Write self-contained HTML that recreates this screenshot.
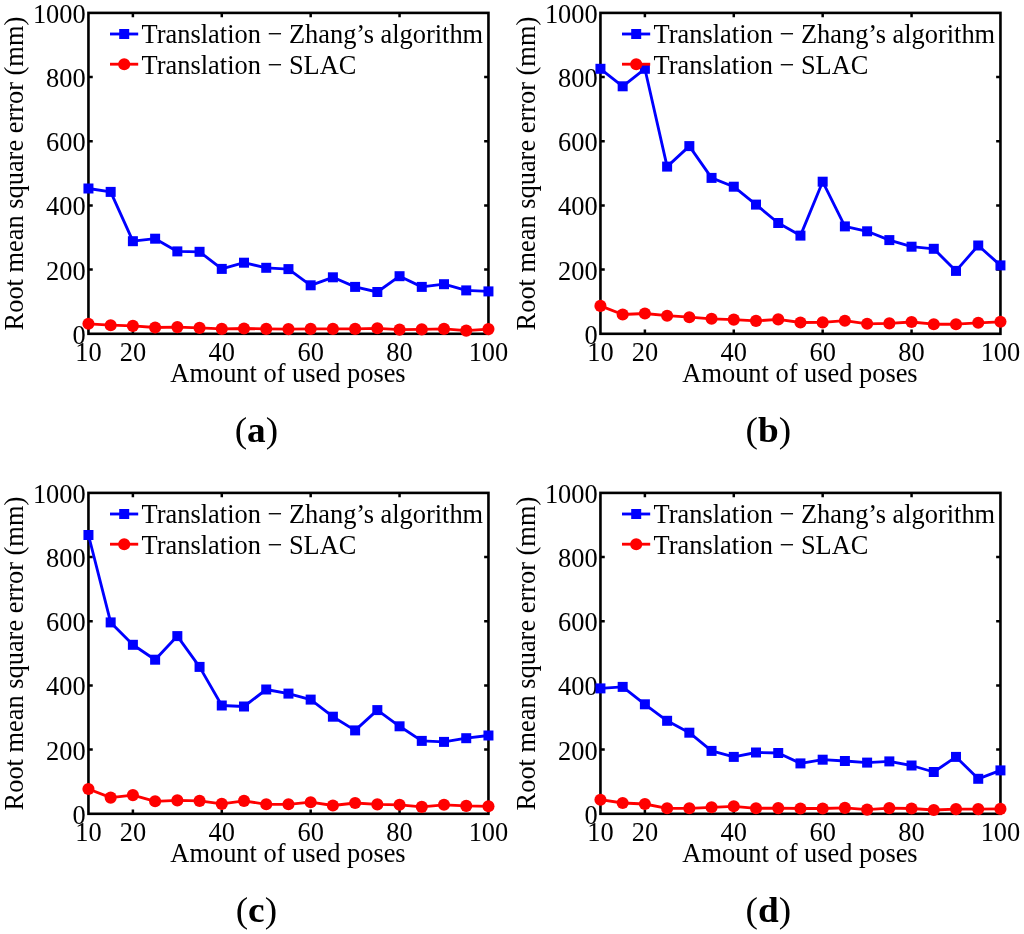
<!DOCTYPE html>
<html lang="en"><head><meta charset="utf-8"><title>Translation RMSE vs amount of used poses</title>
<style>
html,body{margin:0;padding:0;background:#fff;}
body{width:1024px;height:934px;overflow:hidden;}
svg{display:block;}
text{font-family:"Liberation Serif","Times New Roman",Times,serif;fill:#000;}
.t{font-size:26.4px;}
.cap{font-size:37.3px;}
.cap .b{font-weight:bold;}
.ax{fill:none;stroke:#000;stroke-width:2.6;stroke-linejoin:miter;}
.tk{stroke:#000;stroke-width:2.5;fill:none;}
.bl{fill:none;stroke:#0000ff;stroke-width:2.85;stroke-linejoin:round;}
.rl{fill:none;stroke:#ff0000;stroke-width:2.85;stroke-linejoin:round;}
.bm{fill:#0000ff;}
.rm{fill:#ff0000;}
</style></head>
<body>
<svg width="1024" height="934" viewBox="0 0 1024 934">
<rect width="1024" height="934" fill="#fff"/>
<g transform="translate(0,0)">
<text class="t" transform="translate(85.7,22.9) scale(1,1.06)" text-anchor="end">1000</text>
<text class="t" transform="translate(85.7,87.08) scale(1,1.06)" text-anchor="end">800</text>
<text class="t" transform="translate(85.7,151.26) scale(1,1.06)" text-anchor="end">600</text>
<text class="t" transform="translate(85.7,215.44) scale(1,1.06)" text-anchor="end">400</text>
<text class="t" transform="translate(85.7,279.62) scale(1,1.06)" text-anchor="end">200</text>
<text class="t" transform="translate(85.7,343.8) scale(1,1.06)" text-anchor="end">0</text>
<text class="t" transform="translate(88.45,360.6) scale(1,1.06)" text-anchor="middle">10</text>
<text class="t" transform="translate(132.89,360.6) scale(1,1.06)" text-anchor="middle">20</text>
<text class="t" transform="translate(221.78,360.6) scale(1,1.06)" text-anchor="middle">40</text>
<text class="t" transform="translate(310.67,360.6) scale(1,1.06)" text-anchor="middle">60</text>
<text class="t" transform="translate(399.56,360.6) scale(1,1.06)" text-anchor="middle">80</text>
<text class="t" transform="translate(488.45,360.6) scale(1,1.06)" text-anchor="middle">100</text>
<path class="tk" d="M88.45 77.08h4.3 M488.45 77.08h-4.3 M88.45 141.26h4.3 M488.45 141.26h-4.3 M88.45 205.44h4.3 M488.45 205.44h-4.3 M88.45 269.62h4.3 M488.45 269.62h-4.3 M132.89 333.8v-4.3 M132.89 12.9v4.3 M221.78 333.8v-4.3 M221.78 12.9v4.3 M310.67 333.8v-4.3 M310.67 12.9v4.3 M399.56 333.8v-4.3 M399.56 12.9v4.3"/>
<rect class="ax" x="88.45" y="12.9" width="400" height="320.9"/>
<text class="t" transform="translate(288,382.2) scale(1,1.04)" text-anchor="middle">Amount of used poses</text>
<text class="t" transform="translate(23.4,173.6) rotate(-90) scale(1,1.04)" text-anchor="middle">Root mean square error (mm)</text>
<polyline class="bl" points="88.45,188.5 110.67,191.9 132.89,241.2 155.12,238.7 177.34,251.4 199.56,251.8 221.78,268.9 244.01,262.7 266.23,267.8 288.45,269.1 310.67,285.3 332.89,277.3 355.12,286.9 377.34,292 399.56,276.2 421.78,286.9 444.01,284.2 466.23,290.4 488.45,291.4"/>
<rect class="bm" x="83.45" y="183.5" width="10" height="10"/><rect class="bm" x="105.67" y="186.9" width="10" height="10"/><rect class="bm" x="127.89" y="236.2" width="10" height="10"/><rect class="bm" x="150.12" y="233.7" width="10" height="10"/><rect class="bm" x="172.34" y="246.4" width="10" height="10"/><rect class="bm" x="194.56" y="246.8" width="10" height="10"/><rect class="bm" x="216.78" y="263.9" width="10" height="10"/><rect class="bm" x="239.01" y="257.7" width="10" height="10"/><rect class="bm" x="261.23" y="262.8" width="10" height="10"/><rect class="bm" x="283.45" y="264.1" width="10" height="10"/><rect class="bm" x="305.67" y="280.3" width="10" height="10"/><rect class="bm" x="327.89" y="272.3" width="10" height="10"/><rect class="bm" x="350.12" y="281.9" width="10" height="10"/><rect class="bm" x="372.34" y="287" width="10" height="10"/><rect class="bm" x="394.56" y="271.2" width="10" height="10"/><rect class="bm" x="416.78" y="281.9" width="10" height="10"/><rect class="bm" x="439.01" y="279.2" width="10" height="10"/><rect class="bm" x="461.23" y="285.4" width="10" height="10"/><rect class="bm" x="483.45" y="286.4" width="10" height="10"/>
<polyline class="rl" points="88.45,323.8 110.67,325.2 132.89,325.9 155.12,327.5 177.34,327.1 199.56,327.9 221.78,328.9 244.01,328.5 266.23,328.9 288.45,329.1 310.67,328.9 332.89,328.9 355.12,328.9 377.34,328.3 399.56,329.6 421.78,329.4 444.01,328.9 466.23,330.6 488.45,329.1"/>
<circle class="rm" cx="88.45" cy="323.8" r="6.05"/><circle class="rm" cx="110.67" cy="325.2" r="6.05"/><circle class="rm" cx="132.89" cy="325.9" r="6.05"/><circle class="rm" cx="155.12" cy="327.5" r="6.05"/><circle class="rm" cx="177.34" cy="327.1" r="6.05"/><circle class="rm" cx="199.56" cy="327.9" r="6.05"/><circle class="rm" cx="221.78" cy="328.9" r="6.05"/><circle class="rm" cx="244.01" cy="328.5" r="6.05"/><circle class="rm" cx="266.23" cy="328.9" r="6.05"/><circle class="rm" cx="288.45" cy="329.1" r="6.05"/><circle class="rm" cx="310.67" cy="328.9" r="6.05"/><circle class="rm" cx="332.89" cy="328.9" r="6.05"/><circle class="rm" cx="355.12" cy="328.9" r="6.05"/><circle class="rm" cx="377.34" cy="328.3" r="6.05"/><circle class="rm" cx="399.56" cy="329.6" r="6.05"/><circle class="rm" cx="421.78" cy="329.4" r="6.05"/><circle class="rm" cx="444.01" cy="328.9" r="6.05"/><circle class="rm" cx="466.23" cy="330.6" r="6.05"/><circle class="rm" cx="488.45" cy="329.1" r="6.05"/>
<path class="bl" d="M110 34H138.2"/><rect class="bm" x="119.2" y="29" width="10" height="10"/>
<path class="rl" d="M110 64.2H138.2"/><circle class="rm" cx="124.2" cy="64.2" r="6.05"/>
<text class="t" transform="translate(141.6,43) scale(1,1.04)">Translation − Zhang’s algorithm</text>
<text class="t" transform="translate(141.6,73.5) scale(1,1.04)">Translation − SLAC</text>
<text class="cap" transform="translate(256.4,442.3) scale(1,0.97)" text-anchor="middle"><tspan dy="-0.7">(</tspan><tspan class="b" dy="0.7">a</tspan><tspan dy="-0.7">)</tspan></text>
</g>
<g transform="translate(512,0)">
<text class="t" transform="translate(85.7,22.9) scale(1,1.06)" text-anchor="end">1000</text>
<text class="t" transform="translate(85.7,87.08) scale(1,1.06)" text-anchor="end">800</text>
<text class="t" transform="translate(85.7,151.26) scale(1,1.06)" text-anchor="end">600</text>
<text class="t" transform="translate(85.7,215.44) scale(1,1.06)" text-anchor="end">400</text>
<text class="t" transform="translate(85.7,279.62) scale(1,1.06)" text-anchor="end">200</text>
<text class="t" transform="translate(85.7,343.8) scale(1,1.06)" text-anchor="end">0</text>
<text class="t" transform="translate(88.45,360.6) scale(1,1.06)" text-anchor="middle">10</text>
<text class="t" transform="translate(132.89,360.6) scale(1,1.06)" text-anchor="middle">20</text>
<text class="t" transform="translate(221.78,360.6) scale(1,1.06)" text-anchor="middle">40</text>
<text class="t" transform="translate(310.67,360.6) scale(1,1.06)" text-anchor="middle">60</text>
<text class="t" transform="translate(399.56,360.6) scale(1,1.06)" text-anchor="middle">80</text>
<text class="t" transform="translate(488.45,360.6) scale(1,1.06)" text-anchor="middle">100</text>
<path class="tk" d="M88.45 77.08h4.3 M488.45 77.08h-4.3 M88.45 141.26h4.3 M488.45 141.26h-4.3 M88.45 205.44h4.3 M488.45 205.44h-4.3 M88.45 269.62h4.3 M488.45 269.62h-4.3 M132.89 333.8v-4.3 M132.89 12.9v4.3 M221.78 333.8v-4.3 M221.78 12.9v4.3 M310.67 333.8v-4.3 M310.67 12.9v4.3 M399.56 333.8v-4.3 M399.56 12.9v4.3"/>
<rect class="ax" x="88.45" y="12.9" width="400" height="320.9"/>
<text class="t" transform="translate(288,382.2) scale(1,1.04)" text-anchor="middle">Amount of used poses</text>
<text class="t" transform="translate(23.4,173.6) rotate(-90) scale(1,1.04)" text-anchor="middle">Root mean square error (mm)</text>
<polyline class="bl" points="88.45,68.8 110.67,86.3 132.89,68.8 155.12,166.6 177.34,146.1 199.56,177.9 221.78,186.7 244.01,204.6 266.23,223 288.45,235.6 310.67,181.7 332.89,226.4 355.12,231.3 377.34,240.1 399.56,246.7 421.78,248.8 444.01,270.9 466.23,245.5 488.45,265.4"/>
<rect class="bm" x="83.45" y="63.8" width="10" height="10"/><rect class="bm" x="105.67" y="81.3" width="10" height="10"/><rect class="bm" x="127.89" y="63.8" width="10" height="10"/><rect class="bm" x="150.12" y="161.6" width="10" height="10"/><rect class="bm" x="172.34" y="141.1" width="10" height="10"/><rect class="bm" x="194.56" y="172.9" width="10" height="10"/><rect class="bm" x="216.78" y="181.7" width="10" height="10"/><rect class="bm" x="239.01" y="199.6" width="10" height="10"/><rect class="bm" x="261.23" y="218" width="10" height="10"/><rect class="bm" x="283.45" y="230.6" width="10" height="10"/><rect class="bm" x="305.67" y="176.7" width="10" height="10"/><rect class="bm" x="327.89" y="221.4" width="10" height="10"/><rect class="bm" x="350.12" y="226.3" width="10" height="10"/><rect class="bm" x="372.34" y="235.1" width="10" height="10"/><rect class="bm" x="394.56" y="241.7" width="10" height="10"/><rect class="bm" x="416.78" y="243.8" width="10" height="10"/><rect class="bm" x="439.01" y="265.9" width="10" height="10"/><rect class="bm" x="461.23" y="240.5" width="10" height="10"/><rect class="bm" x="483.45" y="260.4" width="10" height="10"/>
<polyline class="rl" points="88.45,305.9 110.67,314.5 132.89,313.5 155.12,315.7 177.34,317.2 199.56,318.8 221.78,319.6 244.01,320.9 266.23,319.4 288.45,322.5 310.67,322.4 332.89,320.7 355.12,323.8 377.34,323.4 399.56,322 421.78,324.2 444.01,324.2 466.23,322.8 488.45,321.8"/>
<circle class="rm" cx="88.45" cy="305.9" r="6.05"/><circle class="rm" cx="110.67" cy="314.5" r="6.05"/><circle class="rm" cx="132.89" cy="313.5" r="6.05"/><circle class="rm" cx="155.12" cy="315.7" r="6.05"/><circle class="rm" cx="177.34" cy="317.2" r="6.05"/><circle class="rm" cx="199.56" cy="318.8" r="6.05"/><circle class="rm" cx="221.78" cy="319.6" r="6.05"/><circle class="rm" cx="244.01" cy="320.9" r="6.05"/><circle class="rm" cx="266.23" cy="319.4" r="6.05"/><circle class="rm" cx="288.45" cy="322.5" r="6.05"/><circle class="rm" cx="310.67" cy="322.4" r="6.05"/><circle class="rm" cx="332.89" cy="320.7" r="6.05"/><circle class="rm" cx="355.12" cy="323.8" r="6.05"/><circle class="rm" cx="377.34" cy="323.4" r="6.05"/><circle class="rm" cx="399.56" cy="322" r="6.05"/><circle class="rm" cx="421.78" cy="324.2" r="6.05"/><circle class="rm" cx="444.01" cy="324.2" r="6.05"/><circle class="rm" cx="466.23" cy="322.8" r="6.05"/><circle class="rm" cx="488.45" cy="321.8" r="6.05"/>
<path class="bl" d="M110 34H138.2"/><rect class="bm" x="119.2" y="29" width="10" height="10"/>
<path class="rl" d="M110 64.2H138.2"/><circle class="rm" cx="124.2" cy="64.2" r="6.05"/>
<text class="t" transform="translate(141.6,43) scale(1,1.04)">Translation − Zhang’s algorithm</text>
<text class="t" transform="translate(141.6,73.5) scale(1,1.04)">Translation − SLAC</text>
<text class="cap" transform="translate(256.4,442.3) scale(1,0.97)" text-anchor="middle"><tspan dy="-0.7">(</tspan><tspan class="b" dy="0.7">b</tspan><tspan dy="-0.7">)</tspan></text>
</g>
<g transform="translate(0,480)">
<text class="t" transform="translate(85.7,22.9) scale(1,1.06)" text-anchor="end">1000</text>
<text class="t" transform="translate(85.7,87.08) scale(1,1.06)" text-anchor="end">800</text>
<text class="t" transform="translate(85.7,151.26) scale(1,1.06)" text-anchor="end">600</text>
<text class="t" transform="translate(85.7,215.44) scale(1,1.06)" text-anchor="end">400</text>
<text class="t" transform="translate(85.7,279.62) scale(1,1.06)" text-anchor="end">200</text>
<text class="t" transform="translate(85.7,343.8) scale(1,1.06)" text-anchor="end">0</text>
<text class="t" transform="translate(88.45,360.6) scale(1,1.06)" text-anchor="middle">10</text>
<text class="t" transform="translate(132.89,360.6) scale(1,1.06)" text-anchor="middle">20</text>
<text class="t" transform="translate(221.78,360.6) scale(1,1.06)" text-anchor="middle">40</text>
<text class="t" transform="translate(310.67,360.6) scale(1,1.06)" text-anchor="middle">60</text>
<text class="t" transform="translate(399.56,360.6) scale(1,1.06)" text-anchor="middle">80</text>
<text class="t" transform="translate(488.45,360.6) scale(1,1.06)" text-anchor="middle">100</text>
<path class="tk" d="M88.45 77.08h4.3 M488.45 77.08h-4.3 M88.45 141.26h4.3 M488.45 141.26h-4.3 M88.45 205.44h4.3 M488.45 205.44h-4.3 M88.45 269.62h4.3 M488.45 269.62h-4.3 M132.89 333.8v-4.3 M132.89 12.9v4.3 M221.78 333.8v-4.3 M221.78 12.9v4.3 M310.67 333.8v-4.3 M310.67 12.9v4.3 M399.56 333.8v-4.3 M399.56 12.9v4.3"/>
<rect class="ax" x="88.45" y="12.9" width="400" height="320.9"/>
<text class="t" transform="translate(288,382.2) scale(1,1.04)" text-anchor="middle">Amount of used poses</text>
<text class="t" transform="translate(23.4,173.6) rotate(-90) scale(1,1.04)" text-anchor="middle">Root mean square error (mm)</text>
<polyline class="bl" points="88.45,55 110.67,142.4 132.89,164.8 155.12,179.7 177.34,156.1 199.56,186.9 221.78,225.5 244.01,226.5 266.23,209.5 288.45,213.6 310.67,219.6 332.89,236.7 355.12,250.4 377.34,230.1 399.56,246.3 421.78,260.9 444.01,261.9 466.23,258.2 488.45,255.5"/>
<rect class="bm" x="83.45" y="50" width="10" height="10"/><rect class="bm" x="105.67" y="137.4" width="10" height="10"/><rect class="bm" x="127.89" y="159.8" width="10" height="10"/><rect class="bm" x="150.12" y="174.7" width="10" height="10"/><rect class="bm" x="172.34" y="151.1" width="10" height="10"/><rect class="bm" x="194.56" y="181.9" width="10" height="10"/><rect class="bm" x="216.78" y="220.5" width="10" height="10"/><rect class="bm" x="239.01" y="221.5" width="10" height="10"/><rect class="bm" x="261.23" y="204.5" width="10" height="10"/><rect class="bm" x="283.45" y="208.6" width="10" height="10"/><rect class="bm" x="305.67" y="214.6" width="10" height="10"/><rect class="bm" x="327.89" y="231.7" width="10" height="10"/><rect class="bm" x="350.12" y="245.4" width="10" height="10"/><rect class="bm" x="372.34" y="225.1" width="10" height="10"/><rect class="bm" x="394.56" y="241.3" width="10" height="10"/><rect class="bm" x="416.78" y="255.9" width="10" height="10"/><rect class="bm" x="439.01" y="256.9" width="10" height="10"/><rect class="bm" x="461.23" y="253.2" width="10" height="10"/><rect class="bm" x="483.45" y="250.5" width="10" height="10"/>
<polyline class="rl" points="88.45,309 110.67,317.6 132.89,315.1 155.12,321.3 177.34,320.4 199.56,320.9 221.78,323.9 244.01,320.9 266.23,324.3 288.45,324.3 310.67,322.2 332.89,325.5 355.12,323 377.34,324.4 399.56,324.8 421.78,326.9 444.01,324.8 466.23,325.9 488.45,326.3"/>
<circle class="rm" cx="88.45" cy="309" r="6.05"/><circle class="rm" cx="110.67" cy="317.6" r="6.05"/><circle class="rm" cx="132.89" cy="315.1" r="6.05"/><circle class="rm" cx="155.12" cy="321.3" r="6.05"/><circle class="rm" cx="177.34" cy="320.4" r="6.05"/><circle class="rm" cx="199.56" cy="320.9" r="6.05"/><circle class="rm" cx="221.78" cy="323.9" r="6.05"/><circle class="rm" cx="244.01" cy="320.9" r="6.05"/><circle class="rm" cx="266.23" cy="324.3" r="6.05"/><circle class="rm" cx="288.45" cy="324.3" r="6.05"/><circle class="rm" cx="310.67" cy="322.2" r="6.05"/><circle class="rm" cx="332.89" cy="325.5" r="6.05"/><circle class="rm" cx="355.12" cy="323" r="6.05"/><circle class="rm" cx="377.34" cy="324.4" r="6.05"/><circle class="rm" cx="399.56" cy="324.8" r="6.05"/><circle class="rm" cx="421.78" cy="326.9" r="6.05"/><circle class="rm" cx="444.01" cy="324.8" r="6.05"/><circle class="rm" cx="466.23" cy="325.9" r="6.05"/><circle class="rm" cx="488.45" cy="326.3" r="6.05"/>
<path class="bl" d="M110 34H138.2"/><rect class="bm" x="119.2" y="29" width="10" height="10"/>
<path class="rl" d="M110 64.2H138.2"/><circle class="rm" cx="124.2" cy="64.2" r="6.05"/>
<text class="t" transform="translate(141.6,43) scale(1,1.04)">Translation − Zhang’s algorithm</text>
<text class="t" transform="translate(141.6,73.5) scale(1,1.04)">Translation − SLAC</text>
<text class="cap" transform="translate(256.4,442.3) scale(1,0.97)" text-anchor="middle"><tspan dy="-0.7">(</tspan><tspan class="b" dy="0.7">c</tspan><tspan dy="-0.7">)</tspan></text>
</g>
<g transform="translate(512,480)">
<text class="t" transform="translate(85.7,22.9) scale(1,1.06)" text-anchor="end">1000</text>
<text class="t" transform="translate(85.7,87.08) scale(1,1.06)" text-anchor="end">800</text>
<text class="t" transform="translate(85.7,151.26) scale(1,1.06)" text-anchor="end">600</text>
<text class="t" transform="translate(85.7,215.44) scale(1,1.06)" text-anchor="end">400</text>
<text class="t" transform="translate(85.7,279.62) scale(1,1.06)" text-anchor="end">200</text>
<text class="t" transform="translate(85.7,343.8) scale(1,1.06)" text-anchor="end">0</text>
<text class="t" transform="translate(88.45,360.6) scale(1,1.06)" text-anchor="middle">10</text>
<text class="t" transform="translate(132.89,360.6) scale(1,1.06)" text-anchor="middle">20</text>
<text class="t" transform="translate(221.78,360.6) scale(1,1.06)" text-anchor="middle">40</text>
<text class="t" transform="translate(310.67,360.6) scale(1,1.06)" text-anchor="middle">60</text>
<text class="t" transform="translate(399.56,360.6) scale(1,1.06)" text-anchor="middle">80</text>
<text class="t" transform="translate(488.45,360.6) scale(1,1.06)" text-anchor="middle">100</text>
<path class="tk" d="M88.45 77.08h4.3 M488.45 77.08h-4.3 M88.45 141.26h4.3 M488.45 141.26h-4.3 M88.45 205.44h4.3 M488.45 205.44h-4.3 M88.45 269.62h4.3 M488.45 269.62h-4.3 M132.89 333.8v-4.3 M132.89 12.9v4.3 M221.78 333.8v-4.3 M221.78 12.9v4.3 M310.67 333.8v-4.3 M310.67 12.9v4.3 M399.56 333.8v-4.3 M399.56 12.9v4.3"/>
<rect class="ax" x="88.45" y="12.9" width="400" height="320.9"/>
<text class="t" transform="translate(288,382.2) scale(1,1.04)" text-anchor="middle">Amount of used poses</text>
<text class="t" transform="translate(23.4,173.6) rotate(-90) scale(1,1.04)" text-anchor="middle">Root mean square error (mm)</text>
<polyline class="bl" points="88.45,208.4 110.67,206.9 132.89,224.3 155.12,240.8 177.34,252.7 199.56,270.9 221.78,276.9 244.01,272.5 266.23,273 288.45,283.4 310.67,279.7 332.89,281 355.12,282.6 377.34,281.4 399.56,285.5 421.78,292 444.01,276.9 466.23,298.8 488.45,290.4"/>
<rect class="bm" x="83.45" y="203.4" width="10" height="10"/><rect class="bm" x="105.67" y="201.9" width="10" height="10"/><rect class="bm" x="127.89" y="219.3" width="10" height="10"/><rect class="bm" x="150.12" y="235.8" width="10" height="10"/><rect class="bm" x="172.34" y="247.7" width="10" height="10"/><rect class="bm" x="194.56" y="265.9" width="10" height="10"/><rect class="bm" x="216.78" y="271.9" width="10" height="10"/><rect class="bm" x="239.01" y="267.5" width="10" height="10"/><rect class="bm" x="261.23" y="268" width="10" height="10"/><rect class="bm" x="283.45" y="278.4" width="10" height="10"/><rect class="bm" x="305.67" y="274.7" width="10" height="10"/><rect class="bm" x="327.89" y="276" width="10" height="10"/><rect class="bm" x="350.12" y="277.6" width="10" height="10"/><rect class="bm" x="372.34" y="276.4" width="10" height="10"/><rect class="bm" x="394.56" y="280.5" width="10" height="10"/><rect class="bm" x="416.78" y="287" width="10" height="10"/><rect class="bm" x="439.01" y="271.9" width="10" height="10"/><rect class="bm" x="461.23" y="293.8" width="10" height="10"/><rect class="bm" x="483.45" y="285.4" width="10" height="10"/>
<polyline class="rl" points="88.45,319.7 110.67,323 132.89,324 155.12,328.3 177.34,328.3 199.56,327.3 221.78,326.3 244.01,328.3 266.23,328.1 288.45,328.5 310.67,328.5 332.89,327.9 355.12,329.6 377.34,328.1 399.56,328.5 421.78,330 444.01,329.1 466.23,329.1 488.45,328.9"/>
<circle class="rm" cx="88.45" cy="319.7" r="6.05"/><circle class="rm" cx="110.67" cy="323" r="6.05"/><circle class="rm" cx="132.89" cy="324" r="6.05"/><circle class="rm" cx="155.12" cy="328.3" r="6.05"/><circle class="rm" cx="177.34" cy="328.3" r="6.05"/><circle class="rm" cx="199.56" cy="327.3" r="6.05"/><circle class="rm" cx="221.78" cy="326.3" r="6.05"/><circle class="rm" cx="244.01" cy="328.3" r="6.05"/><circle class="rm" cx="266.23" cy="328.1" r="6.05"/><circle class="rm" cx="288.45" cy="328.5" r="6.05"/><circle class="rm" cx="310.67" cy="328.5" r="6.05"/><circle class="rm" cx="332.89" cy="327.9" r="6.05"/><circle class="rm" cx="355.12" cy="329.6" r="6.05"/><circle class="rm" cx="377.34" cy="328.1" r="6.05"/><circle class="rm" cx="399.56" cy="328.5" r="6.05"/><circle class="rm" cx="421.78" cy="330" r="6.05"/><circle class="rm" cx="444.01" cy="329.1" r="6.05"/><circle class="rm" cx="466.23" cy="329.1" r="6.05"/><circle class="rm" cx="488.45" cy="328.9" r="6.05"/>
<path class="bl" d="M110 34H138.2"/><rect class="bm" x="119.2" y="29" width="10" height="10"/>
<path class="rl" d="M110 64.2H138.2"/><circle class="rm" cx="124.2" cy="64.2" r="6.05"/>
<text class="t" transform="translate(141.6,43) scale(1,1.04)">Translation − Zhang’s algorithm</text>
<text class="t" transform="translate(141.6,73.5) scale(1,1.04)">Translation − SLAC</text>
<text class="cap" transform="translate(256.4,442.3) scale(1,0.97)" text-anchor="middle"><tspan dy="-0.7">(</tspan><tspan class="b" dy="0.7">d</tspan><tspan dy="-0.7">)</tspan></text>
</g>
</svg>
</body></html>
